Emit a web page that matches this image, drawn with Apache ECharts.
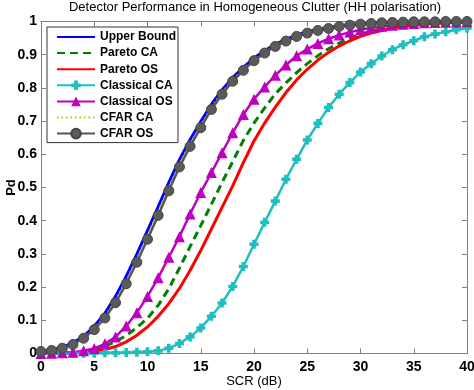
<!DOCTYPE html>
<html><head><meta charset="utf-8">
<script src="https://cdn.jsdelivr.net/npm/echarts@6/dist/echarts.min.js"></script>
<style>html,body{margin:0;padding:0;background:#fff}#c{width:474px;height:390px}</style>
</head><body><div id="c"></div>
<script>
// SCR (dB) sample points
const scr = [0,1,2,3,4,5,6,7,8,9,10,11,12,13,14,15,16,17,18,19,20,21,22,23,24,25,26,27,28,29,30,31,32,33,34,35,36,37,38,39,40];
const upperBound = [0.006,0.011,0.019,0.032,0.052,0.082,0.121,0.172,0.232,0.299,0.370,0.442,0.515,0.584,0.644,0.699,0.750,0.794,0.831,0.862,0.890,0.912,0.931,0.946,0.959,0.969,0.976,0.982,0.987,0.990,0.993,0.995,0.997,0.998,0.998,0.999,1,1,1,1,1];
const paretoCA = [0,0.001,0.002,0.004,0.007,0.012,0.022,0.036,0.054,0.078,0.106,0.145,0.195,0.257,0.322,0.385,0.450,0.515,0.578,0.642,0.694,0.740,0.782,0.815,0.846,0.873,0.897,0.918,0.935,0.950,0.962,0.971,0.978,0.984,0.988,0.991,0.993,0.995,0.996,0.997,0.998];
const paretoOS = [0,0.0005,0.001,0.002,0.004,0.007,0.012,0.021,0.035,0.055,0.080,0.112,0.150,0.196,0.250,0.310,0.375,0.440,0.505,0.575,0.640,0.694,0.742,0.786,0.824,0.856,0.884,0.907,0.926,0.942,0.955,0.965,0.973,0.980,0.985,0.989,0.992,0.994,0.996,0.997,0.998];
const classicalCA = [0,0,0,0.0005,0.001,0.001,0.002,0.002,0.003,0.004,0.005,0.008,0.016,0.030,0.050,0.077,0.112,0.152,0.202,0.262,0.329,0.395,0.459,0.525,0.585,0.643,0.693,0.741,0.781,0.816,0.848,0.873,0.896,0.915,0.930,0.942,0.954,0.962,0.969,0.975,0.980];
const classicalOS = [0,0.001,0.002,0.004,0.008,0.015,0.029,0.050,0.083,0.123,0.172,0.228,0.290,0.352,0.420,0.485,0.545,0.605,0.665,0.720,0.766,0.803,0.838,0.869,0.897,0.917,0.934,0.948,0.959,0.968,0.975,0.981,0.986,0.989,0.992,0.994,0.996,0.997,0.998,0.998,0.999];
const cfarCA = [0.006,0.010,0.017,0.029,0.049,0.077,0.114,0.162,0.221,0.287,0.357,0.429,0.502,0.573,0.634,0.690,0.742,0.788,0.826,0.858,0.886,0.909,0.928,0.944,0.957,0.967,0.975,0.981,0.986,0.990,0.993,0.995,0.996,0.997,0.998,0.999,0.999,1,1,1,1];
const cfarOS = [0.006,0.009,0.016,0.027,0.046,0.072,0.107,0.153,0.210,0.275,0.344,0.416,0.490,0.562,0.624,0.680,0.735,0.781,0.820,0.853,0.882,0.905,0.925,0.941,0.955,0.965,0.973,0.979,0.985,0.989,0.992,0.994,0.996,0.997,0.998,0.999,0.999,0.999,1,1,1];
const xTickLabels = ['0','5','10','15','20','25','30','35','40'];
const yTickLabels = ['0','0.1','0.2','0.3','0.4','0.5','0.6','0.7','0.8','0.9','1'];
const seriesNames = ['Upper Bound','Pareto CA','Pareto OS','Classical CA','Classical OS','CFAR CA','CFAR OS'];

const pairs = ys => scr.map((x, i) => [x, ys[i]]);
const plusPath = 'path://M3,0H7V3H10V7H7V10H3V7H0V3H3Z';
const axisGray = '#808080';
const tickFont = {fontFamily: 'Liberation Sans', fontWeight: 'bold', fontSize: 14, color: '#000'};
const lineOnly = new Set(['Upper Bound', 'Pareto CA', 'Pareto OS', 'CFAR CA']);

const chart = echarts.init(document.getElementById('c'), null, {renderer: 'canvas'});
chart.setOption({
  animation: false,
  backgroundColor: '#fff',
  title: {
    text: 'Detector Performance in Homogeneous Clutter (HH polarisation)',
    left: 255, top: 1, textAlign: 'center', padding: 0,
    textStyle: {fontFamily: 'Liberation Sans', fontWeight: 'normal', fontSize: 13, color: '#000'}
  },
  grid: {left: 41, right: 7, top: 21.5, bottom: 36.5, containLabel: false, outerBoundsMode: 'none'},
  legend: {
    orient: 'vertical', left: 47, top: 27,
    padding: [4, 2, 3, 9], itemGap: 4.1, itemWidth: 38, itemHeight: 12,
    backgroundColor: '#fff', borderColor: '#333', borderWidth: 1,
    textStyle: {fontFamily: 'Liberation Sans', fontWeight: 'bold', fontSize: 12, color: '#000', padding: [0,0,0,0]},
    data: seriesNames.map(n => lineOnly.has(n) ? {name: n, itemStyle: {opacity: 0}} : {name: n})
  },
  xAxis: [{
    type: 'value', min: 0, max: 40, interval: 5,
    name: 'SCR (dB)', nameLocation: 'middle', nameGap: 21, nameMoveOverlap: false,
    nameTextStyle: {fontFamily: 'Liberation Sans', fontWeight: 'normal', fontSize: 13, color: '#000'},
    axisLine: {show: true, onZero: false, lineStyle: {color: axisGray, width: 1}},
    axisTick: {show: true, inside: true, length: 5, lineStyle: {color: axisGray}},
    axisLabel: Object.assign({margin: 7, formatter: v => xTickLabels[Math.round(v / 5)]}, tickFont),
    splitLine: {show: false}
  }, {
    type: 'value', min: 0, max: 40, interval: 5, position: 'top',
    axisLine: {show: true, onZero: false, lineStyle: {color: axisGray, width: 1}},
    axisTick: {show: true, inside: true, length: 5, lineStyle: {color: axisGray}},
    axisLabel: {show: false}, splitLine: {show: false}
  }],
  yAxis: [{
    type: 'value', min: 0, max: 1, interval: 0.1,
    name: 'Pd', nameLocation: 'middle', nameGap: 23, nameRotate: 90, nameMoveOverlap: false,
    nameTextStyle: {fontFamily: 'Liberation Sans', fontWeight: 'bold', fontSize: 13, color: '#000'},
    axisLine: {show: true, onZero: false, lineStyle: {color: axisGray, width: 1}},
    axisTick: {show: true, inside: true, length: 5, lineStyle: {color: axisGray}},
    axisLabel: Object.assign({margin: 4, formatter: v => yTickLabels[Math.round(v * 10)]}, tickFont),
    splitLine: {show: false}
  }, {
    type: 'value', min: 0, max: 1, interval: 0.1, position: 'right',
    axisLine: {show: true, onZero: false, lineStyle: {color: axisGray, width: 1}},
    axisTick: {show: true, inside: true, length: 5, lineStyle: {color: axisGray}},
    axisLabel: {show: false}, splitLine: {show: false}
  }],
  series: [
    {name: seriesNames[0], type: 'line', data: pairs(upperBound), symbol: 'none',
     lineStyle: {color: '#0000ff', width: 3}, itemStyle: {color: '#0000ff'}},
    {name: seriesNames[1], type: 'line', data: pairs(paretoCA), symbol: 'none',
     lineStyle: {color: '#008000', width: 3, type: [8, 5]}, itemStyle: {color: '#008000'}},
    {name: seriesNames[2], type: 'line', data: pairs(paretoOS), symbol: 'none',
     lineStyle: {color: '#ff0000', width: 3}, itemStyle: {color: '#ff0000'}},
    {name: seriesNames[3], type: 'line', data: pairs(classicalCA), symbol: plusPath, symbolSize: 9,
     lineStyle: {color: '#1fbfbf', width: 2.5}, itemStyle: {color: '#1fbfbf'}},
    {name: seriesNames[4], type: 'line', data: pairs(classicalOS), symbol: 'triangle', symbolSize: 11,
     lineStyle: {color: '#bf00bf', width: 2.5}, itemStyle: {color: '#bf00bf'}},
    {name: seriesNames[5], type: 'line', data: pairs(cfarCA), symbol: 'none',
     lineStyle: {color: '#bfbf00', width: 1.5, type: [1.5, 3]}, itemStyle: {color: '#bfbf00'}},
    {name: seriesNames[6], type: 'line', data: pairs(cfarOS), symbol: 'circle', symbolSize: 10,
     lineStyle: {color: '#555555', width: 2.5}, itemStyle: {color: '#5a5a5a', borderColor: '#444', borderWidth: 1}}
  ]
});
</script></body></html>
